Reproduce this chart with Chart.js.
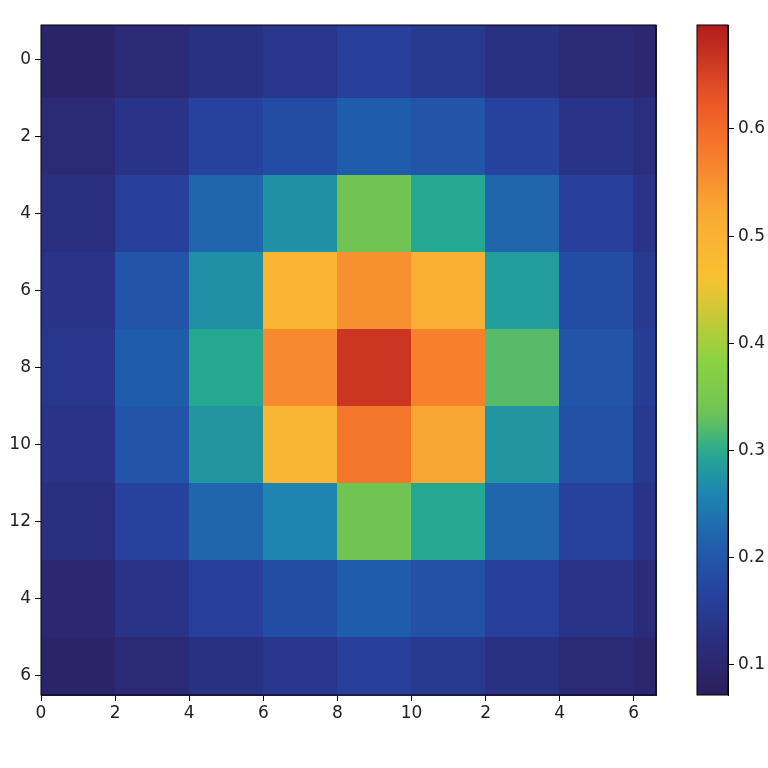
<!DOCTYPE html>
<html><head><meta charset="utf-8">
<script src="https://cdn.jsdelivr.net/npm/chart.js@4"></script>
<style>
html,body{margin:0;padding:0;background:#fff;overflow:hidden}
#wrap{position:relative;width:768px;height:768px}
#main{position:absolute;left:0;top:0}
#cbar{position:absolute;left:690px;top:0}
</style></head>
<body><div id="wrap"><canvas id="main" width="768" height="768"></canvas><canvas id="cbar" width="78" height="768"></canvas></div>
<script>
// cell edges (data units)
const xEdges = [0, 2, 4, 6, 8, 10, 12, 14, 16, 16.6];
const yEdges = [-0.9, 1, 3, 5, 7, 9, 11, 13, 15, 16.5];
const xTickValues = [0, 2, 4, 6, 8, 10, 12, 14, 16];
const xTickLabels = ['0', '2', '4', '6', '8', '10', '2', '4', '6'];
const yTickLabels = ['0', '2', '4', '6', '8', '10', '12', '4', '6'];
const cbTicks = [0.1, 0.2, 0.3, 0.4, 0.5, 0.6];
const vmin = 0.072, vmax = 0.697;
const values = [
  [0.091, 0.110, 0.128, 0.141, 0.160, 0.147, 0.128, 0.110, 0.103],
  [0.110, 0.135, 0.166, 0.185, 0.210, 0.197, 0.166, 0.135, 0.122],
  [0.122, 0.160, 0.222, 0.272, 0.335, 0.297, 0.222, 0.160, 0.135],
  [0.135, 0.197, 0.272, 0.497, 0.553, 0.510, 0.285, 0.185, 0.147],
  [0.141, 0.210, 0.297, 0.560, 0.666, 0.572, 0.322, 0.197, 0.153],
  [0.135, 0.197, 0.278, 0.491, 0.585, 0.528, 0.278, 0.191, 0.147],
  [0.122, 0.166, 0.222, 0.260, 0.335, 0.297, 0.222, 0.166, 0.135],
  [0.103, 0.135, 0.160, 0.185, 0.210, 0.191, 0.160, 0.135, 0.116],
  [0.091, 0.110, 0.128, 0.141, 0.160, 0.147, 0.128, 0.110, 0.097]
];

// colour stops sampled from the reference colourbar
const stops = [
  [0.00, [44, 30, 92]], [0.08, [42, 46, 126]], [0.15, [38, 66, 158]],
  [0.22, [32, 92, 172]], [0.30, [30, 132, 176]], [0.36, [36, 168, 146]],
  [0.42, [112, 196, 84]], [0.50, [140, 210, 66]], [0.62, [248, 194, 48]],
  [0.72, [249, 170, 52]], [0.80, [246, 128, 44]], [0.88, [238, 90, 40]],
  [1.00, [176, 28, 28]]
];
function cmap(t) {
  t = Math.max(0, Math.min(1, t));
  for (let k = 1; k < stops.length; k++) {
    if (t <= stops[k][0]) {
      const [t0, c0] = stops[k - 1], [t1, c1] = stops[k];
      const f = (t - t0) / (t1 - t0);
      const c = c0.map((v, i) => Math.round(v + (c1[i] - v) * f));
      return `rgb(${c[0]},${c[1]},${c[2]})`;
    }
  }
  return 'rgb(176,28,28)';
}
const norm = v => (v - vmin) / (vmax - vmin);

const font = { family: 'DejaVu Sans', size: 17 };

const heatPlugin = {
  id: 'heat',
  beforeDatasetsDraw(chart) {
    const { ctx, scales: { x, y } } = chart;
    values.forEach((row, i) => row.forEach((v, j) => {
      const x0 = x.getPixelForValue(xEdges[j]), x1 = x.getPixelForValue(xEdges[j + 1]);
      const y0 = y.getPixelForValue(yEdges[i]), y1 = y.getPixelForValue(yEdges[i + 1]);
      ctx.fillStyle = cmap(norm(v));
      ctx.fillRect(Math.floor(x0), Math.floor(y0), Math.ceil(x1 - x0) + 1, Math.ceil(y1 - y0) + 1);
    }));
  },
  afterDraw(chart) {
    const { ctx, chartArea: a } = chart;
    ctx.strokeStyle = '#000'; ctx.lineWidth = 1;
    ctx.strokeRect(a.left, a.top, a.right - a.left, a.bottom - a.top);
  }
};

const tickGrid = { display: true, drawOnChartArea: false, drawTicks: true, tickLength: 6, color: '#000' };

new Chart(document.getElementById('main'), {
  type: 'scatter',
  data: { datasets: [{ data: [] }] },
  options: {
    responsive: false, animation: false,
    layout: { padding: { top: 25, right: 112, left: 0, bottom: 0 } },
    plugins: { legend: { display: false }, tooltip: { enabled: false } },
    scales: {
      x: {
        min: 0, max: 16.6,
        grid: tickGrid,
        border: { display: false },
        afterBuildTicks: s => { s.ticks = xTickValues.map(v => ({ value: v })); },
        afterFit: s => { s.height = 73; },
        ticks: { color: '#222', font, padding: 2, maxRotation: 0, callback: (v, i) => xTickLabels[i] }
      },
      y: {
        min: -0.9, max: 16.5, reverse: true,
        grid: tickGrid,
        border: { display: false },
        afterBuildTicks: s => { s.ticks = xTickValues.map(v => ({ value: v })); },
        afterFit: s => { s.width = 41; },
        ticks: { color: '#222', font, padding: 4, callback: (v, i) => yTickLabels[i] }
      }
    }
  },
  plugins: [heatPlugin]
});

new Chart(document.getElementById('cbar'), {
  type: 'bar',
  data: {
    labels: [''],
    datasets: [{
      data: [[vmin, vmax]],
      barPercentage: 1, categoryPercentage: 1,
      borderWidth: 0,
      backgroundColor: c => {
        const a = c.chart.chartArea;
        if (!a) return '#888';
        const g = c.chart.ctx.createLinearGradient(0, a.bottom, 0, a.top);
        for (let k = 0; k <= 40; k++) g.addColorStop(k / 40, cmap(k / 40));
        return g;
      }
    }]
  },
  options: {
    responsive: false, animation: false,
    layout: { padding: { top: 25, left: 7, right: 0, bottom: 73 } },
    plugins: { legend: { display: false }, tooltip: { enabled: false } },
    scales: {
      x: { display: false },
      y: {
        position: 'right', min: vmin, max: vmax,
        grid: tickGrid,
        border: { display: true, color: '#000' },
        afterBuildTicks: s => { s.ticks = cbTicks.map(v => ({ value: v })); },
        afterFit: s => { s.width = 40; },
        ticks: { color: '#222', font, padding: 4, callback: v => v.toFixed(1) }
      }
    }
  },
  plugins: [{
    id: 'cbBorder',
    afterDraw(chart) {
      const { ctx, chartArea: a } = chart;
      ctx.strokeStyle = '#000'; ctx.lineWidth = 1;
      ctx.strokeRect(a.left, a.top, a.right - a.left, a.bottom - a.top);
    }
  }]
});
</script>
</body></html>
